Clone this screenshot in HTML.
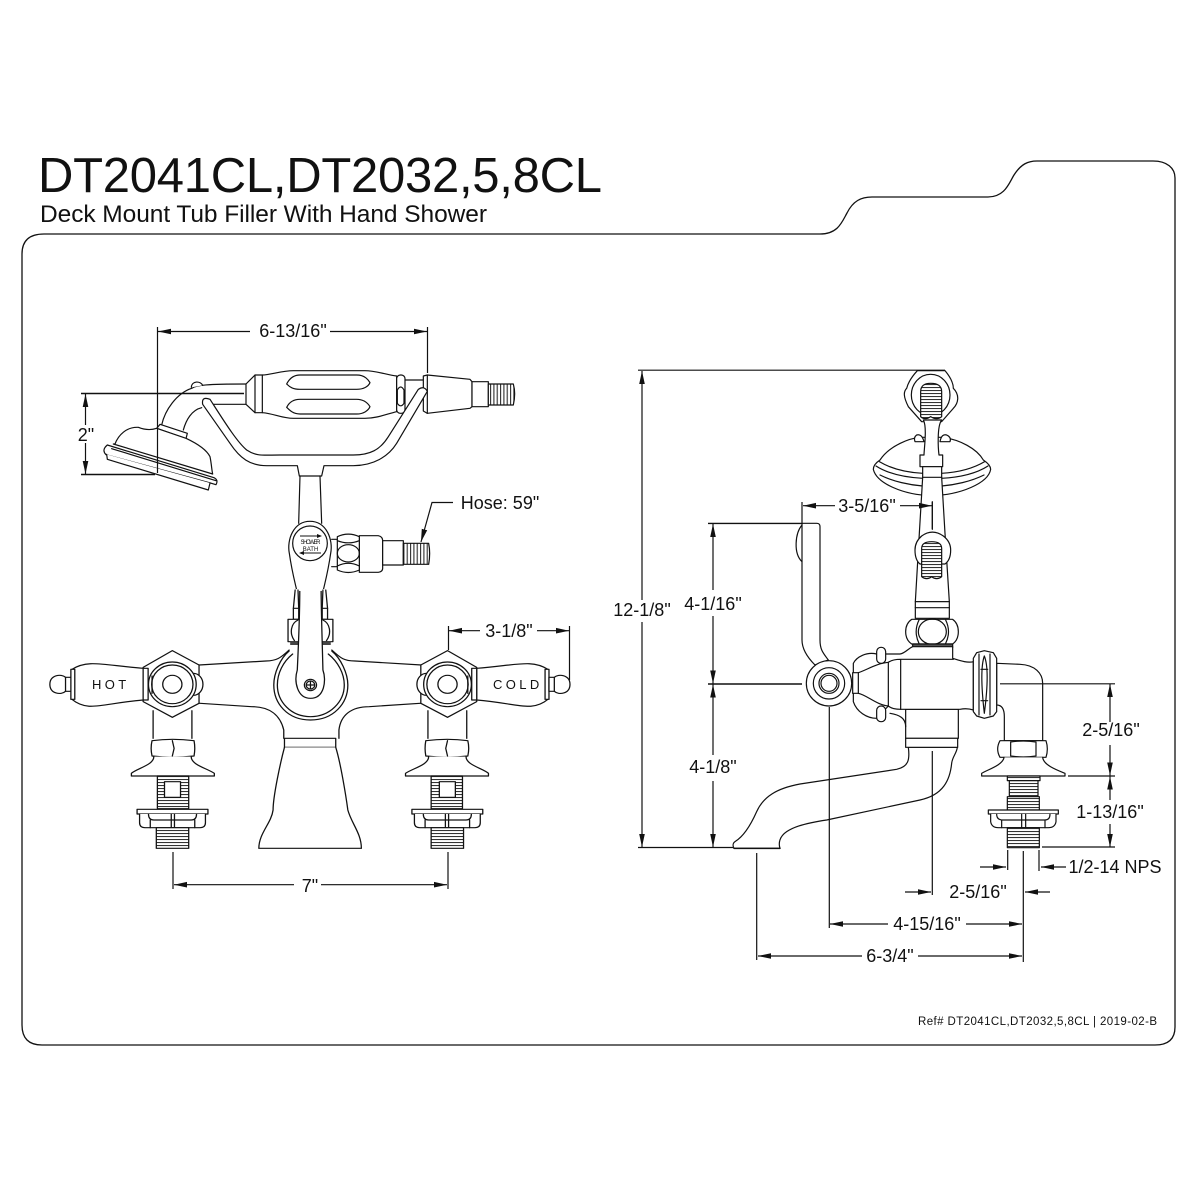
<!DOCTYPE html>
<html><head><meta charset="utf-8"><style>
html,body{margin:0;padding:0;background:#fff}
svg{display:block}
text{font-family:"Liberation Sans",sans-serif;fill:#111;stroke:none}
.d{font-size:18px;text-anchor:middle}
.dim{stroke:#111;stroke-width:1.2;fill:none}
.a{marker-end:url(#ah)}
.dr{fill:none;stroke:#111;stroke-width:3.6;stroke-linejoin:round;stroke-linecap:round}
.w{fill:#fff}
.t{fill:url(#th)}
</style></head><body>
<svg width="1200" height="1200" viewBox="0 0 1200 1200" xmlns="http://www.w3.org/2000/svg">
<defs>
<marker id="ah" markerUnits="userSpaceOnUse" markerWidth="14" markerHeight="8" refX="13" refY="4" orient="auto"><path d="M0,1.2 L13,4 L0,6.8 Z" fill="#111"/></marker>
<pattern id="th" patternUnits="userSpaceOnUse" width="12" height="9"><rect width="12" height="9" fill="#fff"/><rect width="12" height="3.2" fill="#333"/></pattern>
<pattern id="tv" patternUnits="userSpaceOnUse" width="10" height="12"><rect width="10" height="12" fill="#fff"/><rect width="3.4" height="12" fill="#333"/></pattern>
<g id="valve" class="dr">
  <path class="w" d="M397,182 L472,225 L472,340 L397,382 L315,335 L315,232 Z"/>
  <path class="w" d="M115,238 C160,208 200,225 315,235 V330 C200,340 160,368 115,328 Z"/>
  <rect class="w" x="112" y="238" width="11" height="90"/>
  <path class="w" d="M112,262 L97,262 C85,250 53,255 53,283 C53,312 85,316 97,304 L112,304 Z"/>
  <line x1="97" y1="262" x2="97" y2="304"/>
  <rect class="w" x="315" y="235" width="14" height="95"/>
  <ellipse class="w" cx="456" cy="283" rx="27" ry="33"/>
  <circle class="w" cx="397" cy="283" r="67"/><circle cx="397" cy="283" r="58"/>
  <path d="M340,258 V310"/>
  <circle class="w" cx="397" cy="283" r="27"/>
  <path d="M343,362 V445 M452,362 V445"/>
  <path class="w" d="M340,452 Q397,444 458,452 Q462,475 458,498 Q397,505 340,498 Q335,475 340,452 Z"/>
  <path d="M397,452 L402,475 L397,498"/>
  <path class="w" d="M345,500 C345,525 298,535 282,550 V558 H515 V550 C495,535 450,525 450,500"/>
  <rect class="t" x="355" y="558" width="88" height="98"/>
  <rect class="w" x="375" y="575" width="45" height="47"/>
  <rect class="w" x="298" y="658" width="199" height="14"/>
  <path class="w" d="M305,672 V698 Q305,713 320,713 H475 Q490,713 490,698 V672"/>
  <path d="M330,672 Q330,690 345,690 H450 Q465,690 465,672 M335,690 V713 M460,690 V713 M394,672 V713 M403,672 V713"/>
  <rect class="t" x="352" y="713" width="91" height="62"/>
</g>
</defs>
<rect width="1200" height="1200" fill="#fff"/>

<text x="38" y="192" font-size="49" textLength="564">DT2041CL,DT2032,5,8CL</text>
<text x="40" y="222" font-size="24.500" textLength="447">Deck Mount Tub Filler With Hand Shower</text>

<path d="M22,254 Q22,234 44,234 L820,234 C838,234 842,222 847,213 C853,201 861,197 872,197 L988,197 C1005,197 1009,183 1014,175 C1021,164 1028,161 1037,161 L1153,161 C1167,161 1175,168 1175,178 L1175,1027 Q1175,1045 1155,1045 L42,1045 Q22,1045 22,1025 Z" fill="none" stroke="#111" stroke-width="1.3"/>

<!-- LEFT: shower handset -->
<g transform="translate(60,310) scale(.33333)" class="dr">
  <path d="M305,345 C315,300 350,250 395,235 C410,225 440,222 558,222"/>
  <path class="w" d="M394,232 C395,212 422,212 428,226"/>
  <path d="M450,283 H558 M370,360 C378,330 395,300 425,293"/>
  <path class="w" d="M290,355 L300,343 L382,370 L378,386 Z"/>
  <path class="w" d="M165,402 C175,375 200,350 235,352 C255,360 275,360 290,355 L378,385 C410,400 440,420 450,440 C455,465 455,480 458,492 L160,402 Z"/>
  <path class="w" d="M142,405 L462,503 Q476,510 468,524 L448,518 L138,434 Q124,420 142,405 Z"/>
  <path d="M155,416 L468,512"/>
  <path class="w" d="M140,433 L142,448 L445,540 L450,519"/>
  <path class="w" d="M558,283 V222 L585,195 L607,195 C630,195 665,182 700,182 L915,182 C950,182 980,195 1010,198 V305 C980,312 950,325 915,325 L700,325 C665,325 640,310 607,308 L585,308 Z"/>
  <path d="M585,195 V308 M607,195 V308"/>
  <path d="M680,222 C690,202 705,195 720,195 L890,195 C915,195 925,210 930,218 C925,230 910,238 890,238 L720,238 C700,238 690,232 680,222 Z"/>
  <path d="M680,292 C690,272 705,268 720,268 L890,268 C915,268 925,282 930,290 C925,302 910,312 890,312 L720,312 C700,312 690,302 680,292 Z"/>
  <rect class="w" x="1010" y="195" width="25" height="115" rx="11"/>
  <path d="M1012,240 Q1022,222 1032,240 V280 Q1022,295 1012,280 Z"/>
  <path d="M1035,210 H1090 M1035,298 H1065"/>
  <path class="w" d="M1090,198 L1102,195 L1230,208 L1236,215 V290 L1230,295 L1102,310 L1090,303 Z"/>
  <path d="M1102,195 V310"/>
  <path class="w" d="M1236,215 H1285 V290 H1236 Z"/>
  <path d="M1285,222 H1360 Q1368,250 1360,285 H1285 Z" fill="url(#tv)"/>
  <path class="w" d="M450,268 C490,330 530,395 560,420 C590,440 610,435 660,435 L880,435 C930,435 960,420 985,380 L1075,238 Q1092,226 1102,244 L1010,400 C985,440 940,467 880,467 L792,467 L785,498 L718,498 L712,467 L620,467 C570,467 540,445 510,400 L428,283 Q424,258 450,268 Z"/>
  <path d="M720,498 L716,640 M780,498 L785,640"/>
  <path d="M815,688 H832 M815,770 H832"/>
  <path class="w" d="M898,677 L955,677 Q968,680 968,692 V775 Q968,785 955,787 L898,787 Z"/>
  <path class="w" d="M832,680 Q865,665 898,680 V780 Q865,795 832,780 Z"/>
  <ellipse cx="865" cy="730" rx="33" ry="26"/>
  <path d="M832,692 Q865,705 898,692 M832,768 Q865,752 898,768"/>
  <path class="w" d="M968,692 H1030 V765 H968 Z"/>
  <path d="M1030,700 H1106 Q1112,730 1106,763 H1030 Z" fill="url(#tv)"/>
  <path class="w" d="M688,730 C680,690 700,634 750,634 C800,634 820,690 812,730 C805,780 797,810 790,840 H710 C703,810 695,780 688,730 Z" stroke-linejoin="round"/>
  <path d="M710,840 H790" stroke="#fff" stroke-width="6"/>
  <circle class="w" cx="750" cy="700" r="52"/>
</g>
<path d="M300,536 H321 M300,553 H321" stroke="#111" stroke-width="1"/>
<path d="M317,534 L322,536 L317,538 Z M304,551 L299,553 L304,555 Z" fill="#111"/>
<text x="310.500" y="544" font-size="6" text-anchor="middle" textLength="20">SHOWER</text>
<text x="310.500" y="551" font-size="6" text-anchor="middle">BATH</text>

<!-- LEFT: valve body -->
<g transform="translate(31,590) scale(.356,.33333)" class="dr">
  <path class="w" d="M742,0 L737,55 V88 H752 V55 L750,0 M828,0 L833,55 V88 H818 V55 L820,0"/>
  <path d="M737,55 H752 M833,55 H818"/>
  <rect class="w" x="722" y="88" width="126" height="67"/>
  <path d="M750,90 C730,100 725,130 740,152 M820,90 C840,100 845,130 830,152"/>
  <path d="M728,155 H842 V165 H728 Z" fill="#444" stroke="none"/>
  <path class="w" d="M472,225 L660,213 C690,212 700,205 725,180 L845,180 C870,205 880,213 910,213 L1097,225 L1120,338 L950,350 C900,350 870,375 865,420 V445 H710 V420 C700,375 670,350 620,350 L448,338 Z" stroke="none"/>
  <path d="M472,225 L660,213 C690,212 700,205 725,180 M845,180 C870,205 880,213 910,213 L1097,225 M448,338 L620,350 C670,350 700,375 710,420 V445 M865,445 V420 C870,375 900,350 950,350 L1120,338"/>
  <path class="w" d="M725,183 C700,205 682,250 682,285 C682,340 720,390 785,390 C850,390 890,340 890,285 C890,250 870,205 845,183"/>
  <path d="M735,192 C708,215 692,250 692,285 C692,335 730,380 785,380 C840,380 880,335 880,285 C880,250 862,215 835,192"/>
  <path class="w" d="M755,0 C755,60 752,150 748,240 C738,275 748,325 785,325 C825,325 830,270 820,240 C818,150 815,60 815,0"/>
  <path d="M755,0 H815" stroke="#fff" stroke-width="6"/>
  <circle class="w" cx="785" cy="285" r="17"/>
  <circle cx="785" cy="285" r="12"/>
  <path d="M776,285 H794 M785,276 V294"/>
  <rect class="w" x="712" y="445" width="144" height="27"/>
  <path class="w" d="M712,472 C700,520 680,620 680,660 C675,700 640,730 640,775 H928 C928,730 900,700 890,660 C885,620 870,520 856,472"/>
</g>
<g transform="translate(31,590) scale(.356,.33333)"><use href="#valve"/><use href="#valve" transform="translate(1567,0) scale(-1,1)"/></g>
<text x="92" y="689" font-size="13" letter-spacing="3.4">HOT</text>
<text x="493" y="689" font-size="13" letter-spacing="3.4">COLD</text>

<!-- RIGHT: upper parts -->
<g transform="translate(720,360) scale(.33333)" class="dr">
  <path class="w" d="M300,840 C300,870 310,880 325,900 L285,915 C265,895 246,870 246,840 V490 H290 Q300,490 300,500 Z"/>
  <path d="M246,495 C225,520 220,580 246,605"/>
  <path class="w" d="M480,300 C510,255 570,235 600,232 L670,232 C720,240 770,265 790,300 C805,310 812,318 812,328 C805,370 720,405 635,407 C550,405 470,370 460,328 C460,318 468,308 480,300 Z"/>
  <path d="M478,305 C520,330 570,338 608,340 M794,305 C752,330 702,338 665,340 M468,318 C510,345 570,353 608,355 M804,318 C762,345 702,353 665,355 M480,345 C520,365 570,375 608,378 M792,345 C752,365 702,375 665,378"/>
  <path class="w" d="M590,225 Q605,220 612,245 H585 Q580,232 590,225 Z M680,225 Q665,220 660,245 H690 Q695,232 680,225 Z"/>
  <path class="w" d="M592,32 L675,32 C690,50 700,70 700,85 C720,105 715,130 700,145 L665,185 L605,185 L565,140 C550,110 550,95 560,85 C565,65 580,45 592,32 Z"/>
  <ellipse cx="632" cy="105" rx="58" ry="62"/>
  <path d="M602,95 Q602,70 632,70 Q665,70 665,95 V170 Q650,182 632,170 Q615,182 602,170 Z" fill="url(#th)"/>
  <path class="w" d="M610,180 C622,200 612,270 612,285 H600 V320 H668 V285 H657 C655,270 650,200 665,180 Z"/>
  <path class="w" d="M608,320 H665 V352 L675,520 L688,725 H586 L598,520 L608,352 Z"/>
  <path d="M608,352 H665"/>
  <path d="M637,425 V508"/>
  <path class="w" d="M605,528 Q637,505 670,528 Q692,545 692,570 Q692,600 675,612 L600,612 Q585,600 585,570 Q585,545 605,528 Z"/>
  <path d="M605,565 Q605,545 635,545 Q665,545 665,565 V650 Q650,662 635,650 Q620,662 605,650 Z" fill="url(#th)"/>
  <path class="w" d="M586,725 H688 V775 H586 Z"/><path d="M586,743 H688"/>
  <path class="w" d="M575,778 H698 Q715,790 715,815 Q715,840 698,852 H575 Q557,840 557,815 Q557,790 575,778 Z"/>
  <ellipse cx="637" cy="815" rx="42" ry="38"/>
  <path d="M597,780 Q580,815 597,850 M677,780 Q694,815 677,850"/>
  <path d="M578,852 H698 V862 H578 Z" fill="#555"/>
</g>

<!-- RIGHT: lower parts -->
<g transform="translate(720,630) scale(.33333)" class="dr">
  <path class="w" d="M557,238 C557,265 557,275 557,290 V325 H715 V238 Z"/>
  <path class="w" d="M565,352 C570,390 565,410 530,418 L240,462 C170,475 130,500 110,545 C90,590 70,620 45,635 C38,640 38,648 42,655 H180 C175,640 178,620 200,605 C215,595 240,582 320,570 L600,510 C670,495 690,450 695,400 C697,380 710,370 712,352 Z"/>
  <path d="M42,655 H180" stroke-width="4.4"/>
  <path d="M510,250 C540,255 557,265 557,290"/>
  <rect class="w" x="557" y="325" width="156" height="27"/>
  <path class="w" d="M400,100 C410,80 440,65 470,72 L540,72 C555,70 565,55 578,50 H698 V85 C715,90 740,100 760,95 V240 C745,235 735,235 720,238 H542 C530,238 515,237 505,228 L470,265 C440,265 410,245 400,215 Z"/>
  <path d="M415,128 C440,120 470,100 505,97 C515,90 530,88 542,88 H700 M415,190 C440,195 470,225 505,228 M505,97 V228 M542,88 V238"/>
  <rect class="w" x="470" y="52" width="27" height="48" rx="13"/>
  <rect class="w" x="470" y="228" width="27" height="47" rx="13"/>
  <rect class="w" x="398" y="128" width="17" height="62"/>
  <path class="w" d="M830,100 L900,103 C945,105 968,130 968,160 V332 H853 V260 C853,235 845,225 830,225 Z"/>
  <path class="w" d="M770,68 L793,62 L820,68 L830,85 V245 L820,258 L793,265 L770,258 L760,245 V85 Z"/>
  <path d="M777,72 V255 M810,72 V255"/>
  <path d="M793,78 Q810,120 793,250 Q778,120 793,78 M783,118 H803 M783,212 H803"/>
  <circle class="w" cx="327" cy="160" r="68"/><circle cx="327" cy="160" r="47"/><circle cx="327" cy="160" r="30"/><circle cx="327" cy="160" r="24"/>
  <path class="w" d="M840,332 H978 Q986,357 978,382 H840 Q826,357 840,332 Z"/>
  <path d="M872,336 V378 M948,336 V378 M872,336 Q910,330 948,336 M872,378 Q910,384 948,378"/>
  <path class="w" d="M852,382 C850,405 800,420 785,430 V438 H1035 V430 C1010,420 970,405 968,382"/>
  <rect class="t" x="862" y="438" width="98" height="14"/>
  <rect class="t" x="868" y="452" width="86" height="48"/>
  <rect class="t" x="862" y="500" width="96" height="40"/>
  <rect class="w" x="805" y="540" width="210" height="12"/>
  <path class="w" d="M812,552 V575 Q815,593 835,593 H985 Q1005,593 1008,575 V552"/>
  <path d="M830,552 Q830,570 848,570 H975 Q990,570 990,552 M845,570 V593 M975,570 V593 M905,552 V593 M917,552 V593"/>
  <rect class="t" x="862" y="593" width="96" height="60"/>
</g>

<!-- Dimension lines -->
<g class="dim">
  <path d="M157.500,327 V473 M427.500,327 V373"/>
  <path class="a" d="M250,331.500 H158"/><path class="a" d="M330,331.500 H427"/>
  <path d="M81,393.500 H244 M81,474.500 H155" stroke-width="1.4"/>
  <path class="a" d="M85.500,425 V394"/><path class="a" d="M85.500,443 V474"/>
  <path class="a" d="M453,502.500 H432 L421,542"/>
  <path d="M173,852 V889 M448,852 V889"/>
  <path class="a" d="M294,884.700 H174"/><path class="a" d="M321,884.700 H447"/>
  <path d="M448.500,626 V650 M569.500,626 V680"/>
  <path class="a" d="M480,630.700 H449"/><path class="a" d="M537,630.700 H569"/>
  <path d="M638,370.200 H945 M638,847.500 H733"/>
  <path class="a" d="M642,600 V371"/><path class="a" d="M642,622 V847"/>
  <path d="M708,523.400 H802 M708,684 H802" stroke-width="1.4"/>
  <path class="a" d="M713,590 V524"/><path class="a" d="M713,616 V683.500"/>
  <path class="a" d="M713,755 V684.500"/><path class="a" d="M713,781 V847"/>
  <path d="M802,502 V524 M932.300,502 V529"/>
  <path class="a" d="M835,505.700 H803"/><path class="a" d="M900,505.700 H932"/>
  <path d="M1000,683.800 H1115 M1068,776 H1115 M1042,847 H1115"/>
  <path class="a" d="M1110,722 V684"/><path class="a" d="M1110,745 V775.500"/>
  <path class="a" d="M1110,800 V776.500"/><path class="a" d="M1110,824 V847"/>
  <path d="M1007.700,850 V870 M1039,850 V871"/>
  <path class="a" d="M980,867 H1006"/><path class="a" d="M1066,867 H1041"/>
  <path d="M932.300,751 V895 M1023.300,851 V962 M829.300,707 V928 M756.700,853 V960"/>
  <path class="a" d="M905,892 H931"/><path class="a" d="M1050,892 H1025"/>
  <path class="a" d="M888,924 H830"/><path class="a" d="M966,924 H1022"/>
  <path class="a" d="M862,956 H758"/><path class="a" d="M918,956 H1022"/>
</g>

<text class="d" x="293" y="337">6-13/16"</text>
<text class="d" x="86" y="441">2"</text>
<text class="d" x="500" y="509">Hose: 59"</text>
<text class="d" x="509" y="637">3-1/8"</text>
<text class="d" x="310" y="892">7"</text>
<text class="d" x="642" y="616">12-1/8"</text>
<text class="d" x="713" y="610">4-1/16"</text>
<text class="d" x="713" y="773">4-1/8"</text>
<text class="d" x="867" y="512">3-5/16"</text>
<text class="d" x="1111" y="736">2-5/16"</text>
<text class="d" x="1110" y="818">1-13/16"</text>
<text class="d" x="1115" y="873">1/2-14 NPS</text>
<text class="d" x="978" y="898">2-5/16"</text>
<text class="d" x="927" y="930">4-15/16"</text>
<text class="d" x="890" y="962">6-3/4"</text>
<text x="918" y="1025" font-size="11.500" textLength="239">Ref# DT2041CL,DT2032,5,8CL | 2019-02-B</text>
</svg>
</body></html>
